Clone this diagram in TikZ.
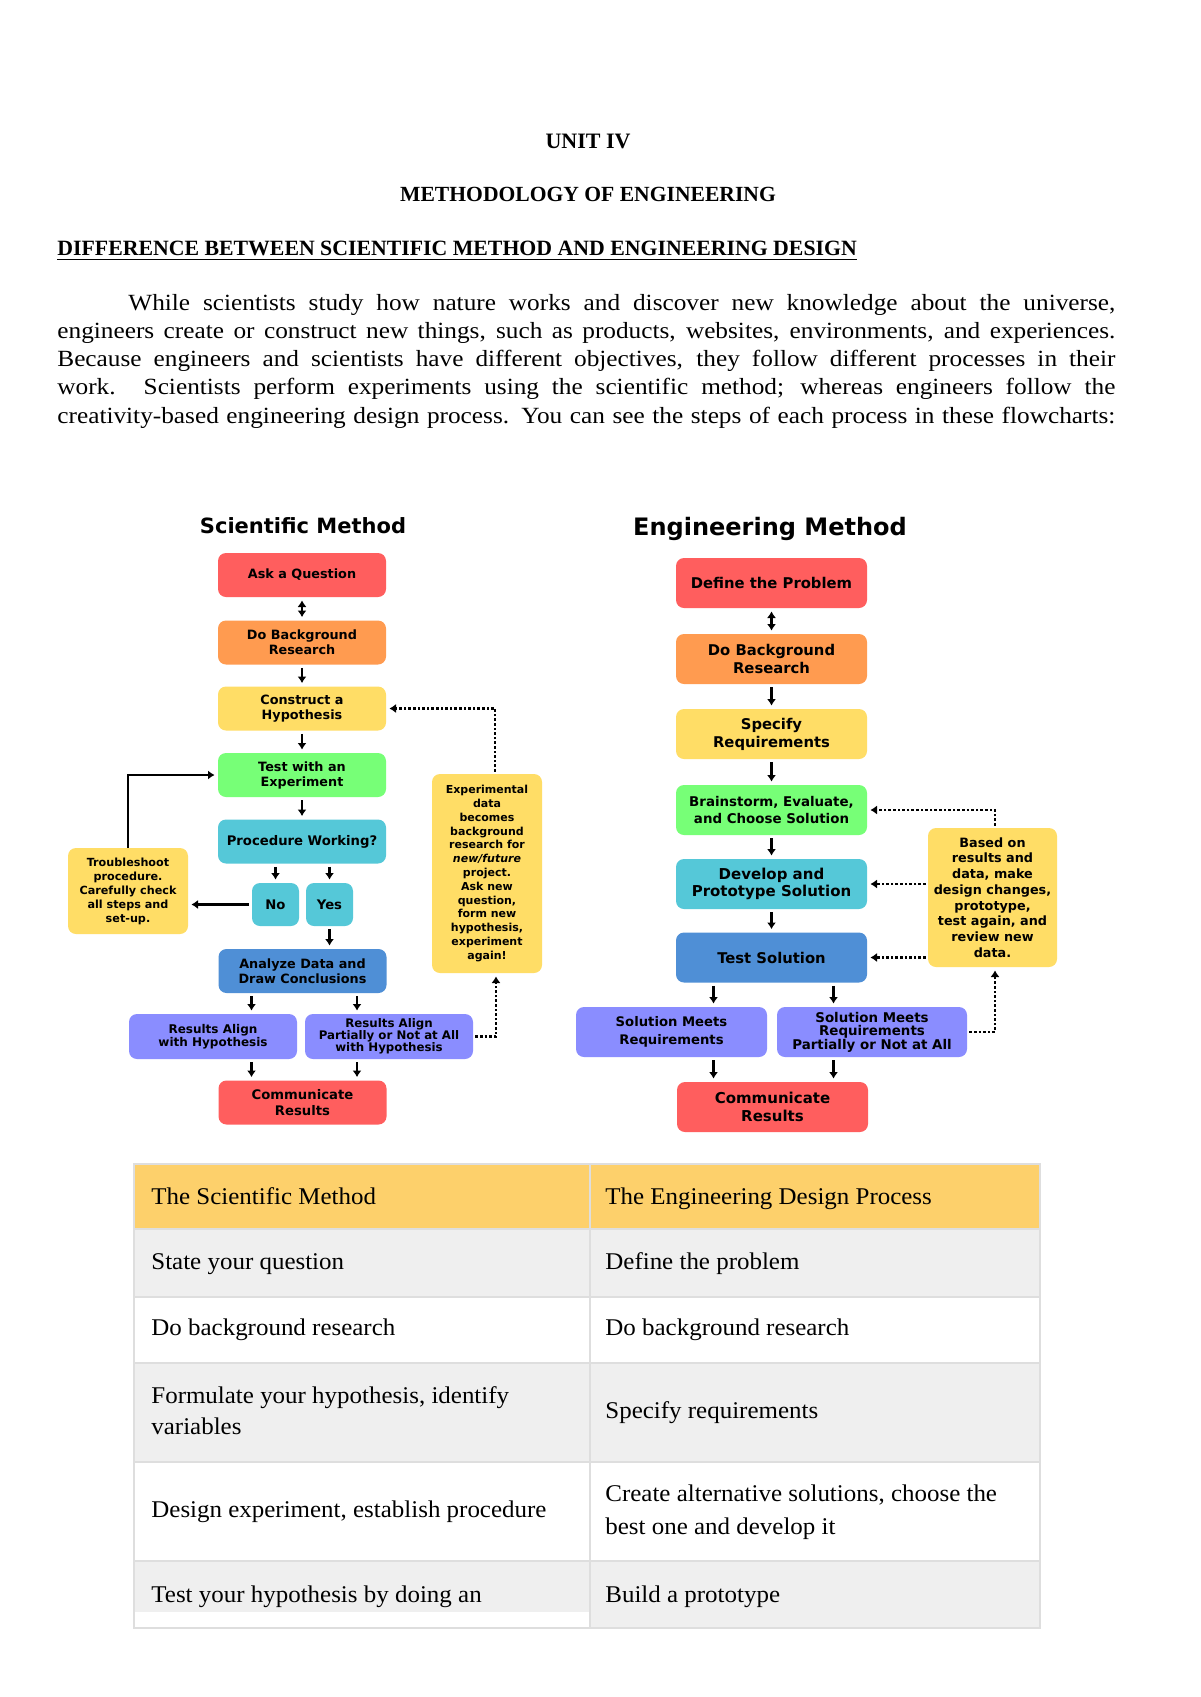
\documentclass[tikz,border=0pt]{standalone}
\usepackage{fontspec}
\setmainfont{Liberation Serif}
\newfontfamily\dv{DejaVu Sans}
\newfontfamily\headfont{Liberation Serif}
\newfontfamily\bodyfont{Liberation Serif}[FakeStretch=1.09]
\newfontfamily\tabfont{Liberation Serif}[FakeStretch=1.04]
\usetikzlibrary{arrows.meta,calc}
\definecolor{cred}{HTML}{FF5E5E}
\definecolor{corange}{HTML}{FF9B50}
\definecolor{cyellow}{HTML}{FFDD66}
\definecolor{cgreen}{HTML}{77FF77}
\definecolor{ccyan}{HTML}{55C8D8}
\definecolor{cblue}{HTML}{4F8FD6}
\definecolor{cperi}{HTML}{8A8DFF}
\definecolor{thead}{HTML}{FDD06B}
\definecolor{tgray}{HTML}{EFEFEF}
\definecolor{tline}{HTML}{DEDEDE}
\newcommand{\bx}[2]{\dv\bfseries\fontsize{#1}{#2}\selectfont}
\newcommand{\tb}{\tabfont\fontsize{12}{14}\selectfont}
\begin{document}
\begin{tikzpicture}[x=0.5pt,y=-0.5pt,
  box/.style={rounded corners=4pt, align=center, inner sep=0pt},
  sbox/.style={box, minimum width=84pt, minimum height=22pt, font=\bx{6.4}{7.5}},
  ebox/.style={box, minimum width=95.5pt, minimum height=25pt, font=\bx{7.4}{9}},
  tip/.style={-{Latex[length=3.3pt,width=4.6pt]}},
  arr/.style={tip, line width=1.25pt, shorten >=1.5pt, shorten <=1.5pt},
  darr/.style={{Latex[length=3.3pt,width=4.6pt]}-{Latex[length=3.3pt,width=4.6pt]}, line width=1.25pt, shorten >=1.5pt, shorten <=1.5pt},
  dotarr/.style={tip, line width=1.3pt, dash pattern=on 1.3pt off 1pt, shorten >=1.5pt, shorten <=1pt},
  ptxt/.style={anchor=base west, inner sep=0pt, font=\bodyfont\fontsize{11.6}{14}\selectfont},
  ttxt/.style={anchor=base west, inner sep=0pt, font=\tb},
  head/.style={inner sep=0pt, font=\headfont\bfseries\fontsize{11}{14}\selectfont}]
\useasboundingbox[fill=white] (0,0) rectangle (1200,1697);

% headings
\node[head, anchor=base] (unit) at (588,148) {UNIT IV};
\node[head, anchor=base, font=\headfont\bfseries\fontsize{10.8}{14}\selectfont] (meth) at (588,201) {METHODOLOGY OF ENGINEERING};
\node[head, anchor=base west, font=\headfont\bfseries\fontsize{10.9}{14}\selectfont] (diff) at (57,255) {DIFFERENCE BETWEEN SCIENTIFIC METHOD AND ENGINEERING DESIGN};
\draw[line width=0.8pt] ([yshift=-2.2pt]diff.base west) -- ([yshift=-2.2pt]diff.base east);

% paragraph
\node[ptxt] (p1) at (128,310) {\makebox[493.5pt][s]{While scientists study how nature works and discover new knowledge about the universe,}};
\node[ptxt] (p2) at (57,338.3) {\makebox[529pt][s]{engineers create or construct new things, such as products, websites, environments, and experiences.}};
\node[ptxt] (p3) at (57,366.6) {\makebox[529pt][s]{Because engineers and scientists have different objectives, they follow different processes in their}};
\node[ptxt] (p4) at (57,394.9) {\makebox[529pt][s]{work. Scientists perform experiments using the scientific method; whereas engineers follow the}};
\node[ptxt] (p5) at (57,423.2) {\makebox[529pt][s]{creativity-based engineering design process. You can see the steps of each process in these flowcharts:}};

% ---------- Scientific Method ----------
\node[font=\bx{10.5}{12}] (stitle) at (303,526) {Scientific Method};
\node[sbox, fill=cred] (ask) at (302,575) {Ask a Question};
\node[sbox, fill=corange] (sbg) at (302,642.5) {Do Background\\Research};
\node[sbox, fill=cyellow] (hyp) at (302,708.5) {Construct a\\Hypothesis};
\node[sbox, fill=cgreen] (test) at (302,775) {Test with an\\Experiment};
\node[sbox, fill=ccyan, font=\bx{6.6}{7.5}] (proc) at (302,841.5) {Procedure Working?};
\node[box, fill=ccyan, minimum width=23.5pt, minimum height=21.5pt, font=\bx{6.6}{8}] (no) at (275.5,904.5) {No};
\node[box, fill=ccyan, minimum width=23.5pt, minimum height=21.5pt, font=\bx{6.6}{8}] (yes) at (329.5,904.5) {Yes};
\node[box, fill=cyellow, minimum width=60pt, minimum height=43pt, font=\bx{5.6}{7}] (trouble) at (128,891) {Troubleshoot\\procedure.\\Carefully check\\all steps and\\set-up.};
\node[box, fill=cyellow, minimum width=55pt, minimum height=99.5pt, font=\bx{5.5}{6.9}] (exp) at (487,873.5) {Experimental\\data\\becomes\\background\\research for\\\textit{new/future}\\project.\\Ask new\\question,\\form new\\hypothesis,\\experiment\\again!};
\node[sbox, fill=cblue] (analyze) at (302.5,971) {Analyze Data and\\Draw Conclusions};
\node[sbox, fill=cperi, minimum height=22.5pt, font=\bx{6}{6.7}] (align1) at (213,1036.5) {Results Align\\with Hypothesis};
\node[sbox, fill=cperi, minimum height=22.5pt, font=\bx{5.9}{6.1}] (align2) at (389,1036.5) {Results Align\\Partially or Not at All\\with Hypothesis};
\node[sbox, fill=cred, font=\bx{6.6}{7.8}] (scomm) at (302.5,1102.5) {Communicate\\Results};

\draw[darr] (ask) -- (sbg);
\draw[arr] (sbg) -- (hyp);
\draw[arr] (hyp) -- (test);
\draw[arr] (test) -- (proc);
\draw[arr] (proc.south -| no) -- (no);
\draw[arr] (proc.south -| yes) -- (yes);
\draw[arr] (no.west) -- (no.west -| trouble.east);
\draw[arr, shorten <=0pt] (trouble.north) |- (test.west);
\draw[arr] (yes) -- (yes |- analyze.north);
\draw[arr] ([xshift=-25.5pt]analyze.south) -- ([xshift=-25.5pt]analyze.south |- align1.north);
\draw[arr] ([xshift=27.25pt]analyze.south) -- ([xshift=27.25pt]analyze.south |- align2.north);
\draw[arr] ([xshift=-25.5pt]analyze.south |- align1.south) -- ([xshift=-25.5pt]analyze.south |- scomm.north);
\draw[arr] ([xshift=27.25pt]analyze.south |- align2.south) -- ([xshift=27.25pt]analyze.south |- scomm.north);
\draw[dotarr] ([xshift=4pt]exp.north) |- (hyp.east);
\draw[dotarr] (align2.east) -| ([xshift=4.5pt]exp.south);

% ---------- Engineering Method ----------
\node[font=\bx{12}{14}] (etitle) at (770,529) {Engineering Method};
\node[ebox, fill=cred] (define) at (771.5,583) {Define the Problem};
\node[ebox, fill=corange] (ebg) at (771.5,659) {Do Background\\Research};
\node[ebox, fill=cyellow] (spec) at (771.5,734) {Specify\\Requirements};
\node[ebox, fill=cgreen, font=\bx{6.7}{8.3}] (brain) at (771.5,810) {Brainstorm, Evaluate,\\and Choose Solution};
\node[ebox, fill=ccyan, font=\bx{7.5}{8.8}] (dev) at (771.5,884) {Develop and\\Prototype Solution};
\node[ebox, fill=cblue] (tsol) at (771.5,957.5) {Test Solution};
\node[ebox, fill=cperi, font=\bx{6.6}{8.7}] (meets1) at (671.5,1032) {Solution Meets\\Requirements};
\node[ebox, fill=cperi, minimum width=95pt, font=\bx{6.7}{6.7}] (meets2) at (872,1032) {Solution Meets\\Requirements\\Partially or Not at All};
\node[ebox, fill=cred, font=\bx{7.5}{8.8}] (ecomm) at (772.5,1107) {Communicate\\Results};
\node[box, fill=cyellow, minimum width=64.5pt, minimum height=69.5pt, font=\bx{6.4}{7.86}] (based) at (992.5,897.5) {Based on\\results and\\data, make\\design changes,\\prototype,\\test again, and\\review new\\data.};

\draw[darr] (define) -- (ebg);
\draw[arr] (ebg) -- (spec);
\draw[arr] (spec) -- (brain);
\draw[arr] (brain) -- (dev);
\draw[arr] (dev) -- (tsol);
\draw[arr] ([xshift=-29pt]tsol.south) -- ([xshift=-29pt]tsol.south |- meets1.north);
\draw[arr] ([xshift=31pt]tsol.south) -- ([xshift=31pt]tsol.south |- meets2.north);
\draw[arr] ([xshift=-29pt]tsol.south |- meets1.south) -- ([xshift=-29pt]tsol.south |- ecomm.north);
\draw[arr] ([xshift=31pt]tsol.south |- meets2.south) -- ([xshift=31pt]tsol.south |- ecomm.north);
\draw[dotarr] ([xshift=1.25pt]based.north) |- (brain.east);
\draw[dotarr] (based.west |- dev) -- (dev.east);
\draw[dotarr] (based.west |- tsol) -- (tsol.east);
\draw[dotarr] (meets2.east) -| ([xshift=1.25pt]based.south);

% ---------- Table ----------
\fill[thead] (134,1164) rectangle (1040,1229);
\fill[tgray] (134,1229) rectangle (1040,1297);
\fill[tgray] (134,1363) rectangle (1040,1462);
\fill[tgray] (134,1561) rectangle (590,1612);
\fill[tgray] (590,1561) rectangle (1040,1628);
\draw[tline, line width=1pt] (134,1164) rectangle (1040,1628);
\draw[tline, line width=1pt] (590,1164) -- (590,1628);
\foreach \yy in {1229,1297,1363,1462,1561} \draw[tline, line width=1pt] (134,\yy) -- (1040,\yy);

\node[ttxt] (h1) at (151,1204) {The Scientific Method};
\node[ttxt] (h2) at (605,1204) {The Engineering Design Process};
\node[ttxt] (a1) at (151,1269) {State your question};
\node[ttxt] (b1) at (605,1269) {Define the problem};
\node[ttxt] (a2) at (151,1335) {Do background research};
\node[ttxt] (b2) at (605,1335) {Do background research};
\node[ttxt] (a3) at (151,1403) {Formulate your hypothesis, identify};
\node[ttxt] (a3b) at (151,1434) {variables};
\node[ttxt] (b3) at (605,1418) {Specify requirements};
\node[ttxt] (a4) at (151,1517) {Design experiment, establish procedure};
\node[ttxt] (b4) at (605,1501) {Create alternative solutions, choose the};
\node[ttxt] (b4b) at (605,1534) {best one and develop it};
\node[ttxt] (a5) at (151,1602) {Test your hypothesis by doing an};
\node[ttxt] (b5) at (605,1602) {Build a prototype};
\end{tikzpicture}
\end{document}
